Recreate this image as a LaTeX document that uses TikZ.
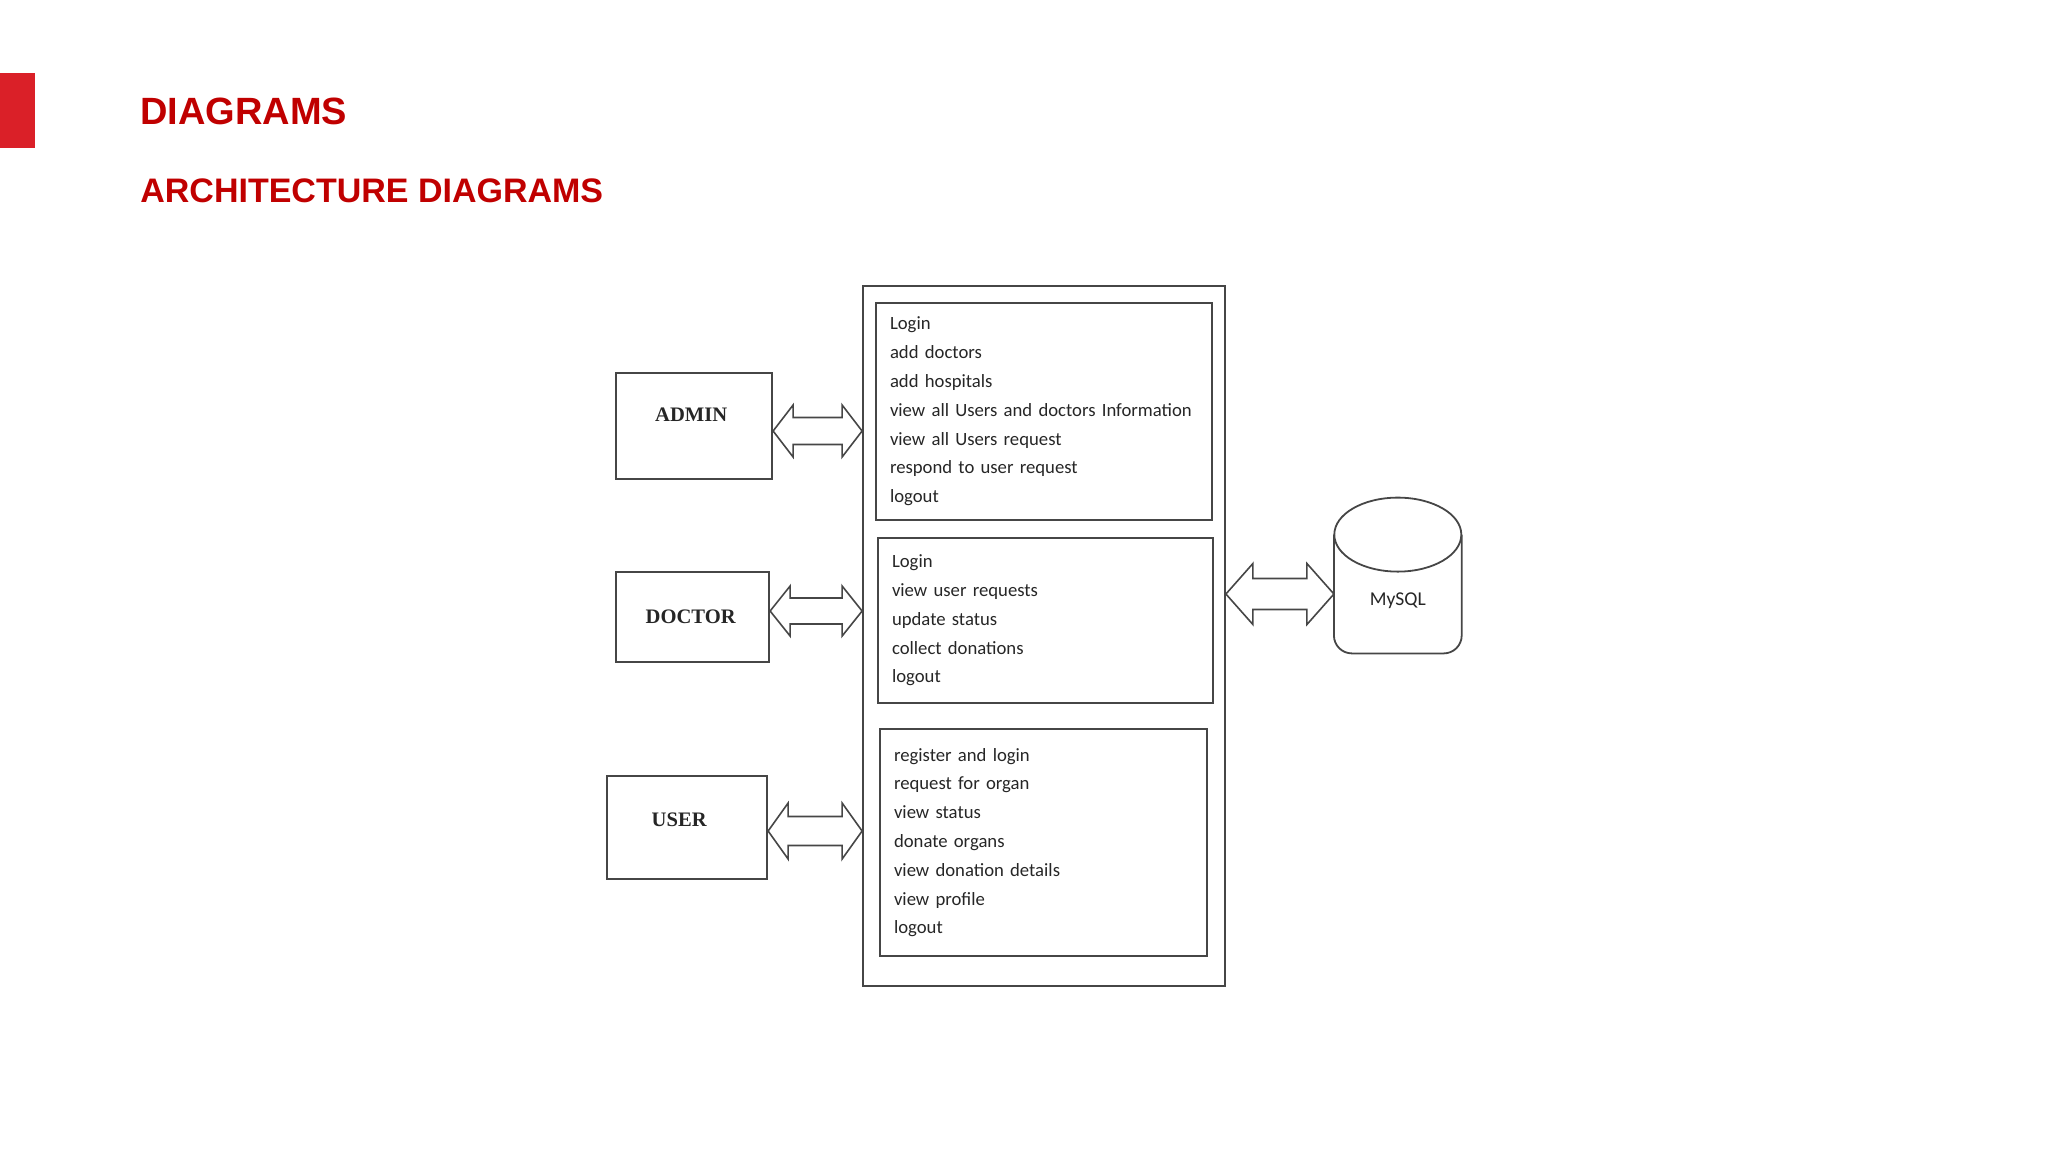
\documentclass[tikz,border=0pt]{standalone}
\usepackage{fontspec}
\setmainfont{Carlito}
\newfontfamily\headfont{Liberation Sans}
\newfontfamily\actorfont{Liberation Serif}
\usetikzlibrary{
    positioning,
    calc
}
\definecolor{headred}{RGB}{192,0,0}
\definecolor{barred}{RGB}{218,32,40}
\definecolor{linegray}{RGB}{70,70,70}

% hollow two-headed arrow: left end, right end, head half, shaft half, head length
\newcommand{\dblarrow}[5]{%
    \draw[fatarrow] (#1) -- ($(#1)+(#5,-#3)$) -- ($(#1)+(#5,-#4)$)
        -- ($(#2)+(-#5,-#4)$) -- ($(#2)+(-#5,-#3)$) -- (#2)
        -- ($(#2)+(-#5,#3)$) -- ($(#2)+(-#5,#4)$)
        -- ($(#1)+(#5,#4)$) -- ($(#1)+(#5,#3)$) -- cycle;}

\begin{document}
\begin{tikzpicture}[
        x=0.5pt, y=-0.5pt,
        heading/.style={
            font=\headfont\bfseries\fontsize{19}{23}\selectfont,
            text=headred,
            inner sep=0pt,
            anchor=base west
        },
        subheading/.style={
            heading,
            font=\headfont\bfseries\fontsize{17}{20}\selectfont
        },
        outerframe/.style={
            rectangle,
            draw=linegray,
            line width=0.9pt,
            minimum width=181pt,
            minimum height=350pt
        },
        panel/.style={
            rectangle,
            draw=linegray,
            line width=0.9pt,
            align=left,
            inner xsep=7pt,
            font=\fontsize{9.35}{14.4}\selectfont,
            text=black!85
        },
        actor/.style={
            rectangle,
            draw=linegray,
            line width=0.9pt,
            inner sep=0pt
        },
        actorlabel/.style={
            font=\actorfont\bfseries\fontsize{10.3}{12}\selectfont,
            text=black!85
        },
        dbbox/.style={
            rectangle,
            minimum width=63.5pt,
            minimum height=77.5pt,
            inner sep=0pt
        },
        dblabel/.style={
            font=\fontsize{9.8}{12}\selectfont,
            text=black!85
        },
        dbline/.style={
            draw=linegray,
            line width=0.9pt
        },
        fatarrow/.style={
            draw=linegray,
            line width=0.8pt,
            fill=white,
            line join=miter
        }
    ]

    \useasboundingbox (0,0) rectangle (2048,1152);

    \fill[barred] (0,73) rectangle (35,148);
    \node[heading] (title) at (140,124) {DIAGRAMS};
    \node[subheading] (subtitle) at (140,202) {ARCHITECTURE DIAGRAMS};

    \node[outerframe] (frame) at (1044,636) {};

    \node[panel, text width=154pt, minimum height=108.5pt] (adminpanel)
        at (1044,411.5)
        {Login\\add doctors\\add hospitals\\
         view all Users and doctors Information\\view all Users request\\
         respond to user request\\logout};
    \node[panel, text width=153.5pt, minimum height=82.5pt] (doctorpanel)
        at (1045.5,620.5)
        {Login\\view user requests\\update status\\collect donations\\logout};
    \node[panel, text width=149.5pt, minimum height=113.5pt] (userpanel)
        at (1043.5,842.5)
        {register and login\\request for organ\\view status\\donate organs\\
         view donation details\\view profile\\logout};

    \node[actor, minimum width=78pt, minimum height=53pt,
          left=51pt of adminpanel, yshift=-7.25pt,
          label={[actorlabel, xshift=-1.5pt, yshift=5.5pt]center:ADMIN}] (admin) {};
    \node[actor, minimum width=76.5pt, minimum height=45pt,
          left=53.5pt of doctorpanel, yshift=1.75pt,
          label={[actorlabel, xshift=-1pt]center:DOCTOR}] (doctor) {};
    \node[actor, minimum width=80pt, minimum height=51.5pt,
          left=55.5pt of userpanel, yshift=7.5pt,
          label={[actorlabel, xshift=-4pt, yshift=3.75pt]center:USER}] (user) {};

    \node[dbbox, right=54pt of frame, yshift=30.25pt,
          label={[dblabel, yshift=-12.5pt]center:MySQL}] (db) {};
    \draw[dbline, rounded corners=9pt] ([yshift=-18.5pt]db.north west)
        -- (db.south west) -- (db.south east) -- ([yshift=-18.5pt]db.north east);
    \draw[dbline] ([yshift=-18.5pt]db.north) ellipse [x radius=31.75pt, y radius=18.5pt];

    \coordinate (adminA) at ([yshift=-2.5pt]admin.east);
    \coordinate (adminB) at (adminA -| frame.west);
    \coordinate (doctorA) at ([yshift=3pt]doctor.east);
    \coordinate (doctorB) at (doctorA -| frame.west);
    \coordinate (userA) at ([yshift=-1.75pt]user.east);
    \coordinate (userB) at (userA -| frame.west);
    \coordinate (dbB) at ([yshift=-9.25pt]db.west);
    \coordinate (dbA) at (dbB -| frame.east);

    \dblarrow{adminA}{adminB}{26}{13.5}{20}
    \dblarrow{doctorA}{doctorB}{25}{13}{20}
    \dblarrow{userA}{userB}{28}{14.5}{20}
    \dblarrow{dbA}{dbB}{30.5}{15.5}{27}

\end{tikzpicture}
\end{document}
